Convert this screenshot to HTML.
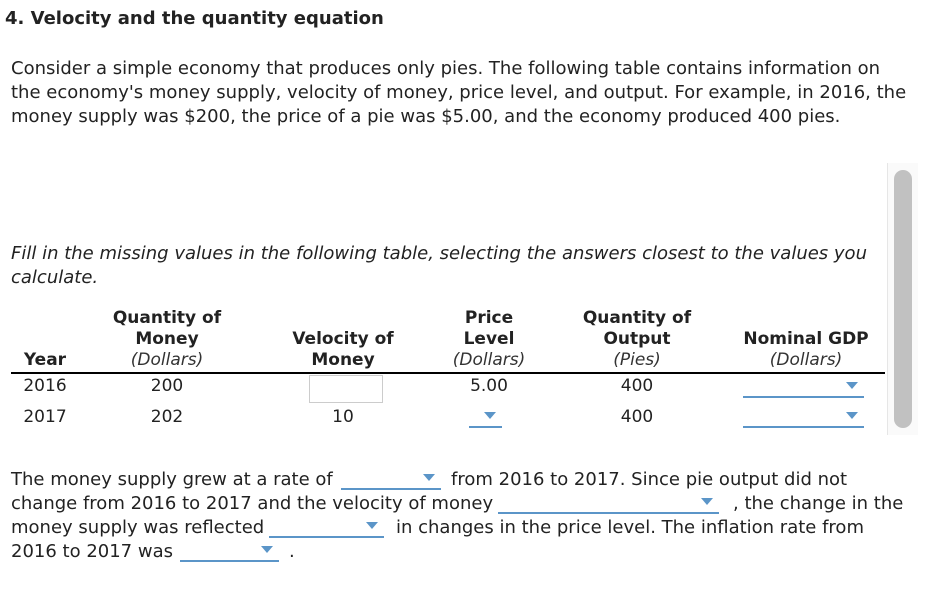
<!DOCTYPE html>
<html><head><meta charset="utf-8">
<style>
body{margin:0;width:952px;height:600px;background:#fff;position:relative;overflow:hidden;font-family:"DejaVu Sans","Liberation Sans",sans-serif;color:#222;}
.t{position:absolute;white-space:nowrap;font-size:18px;line-height:20px;}
.h{position:absolute;white-space:nowrap;font-size:17px;font-weight:bold;line-height:21px;text-align:center;transform:translateX(-50%);}
.h i{font-weight:normal;color:#333}
.c{position:absolute;white-space:nowrap;font-size:17px;line-height:20px;transform:translateX(-50%);}
.dd{position:absolute;border-bottom:2px solid #5b95c8;height:14px}
.dd:after{content:"";position:absolute;right:6px;top:0;border-left:6px solid transparent;border-right:6px solid transparent;border-top:7px solid #5b95c8}
</style></head><body>
<div class="t" style="left:5px;top:9px;font-weight:bold">4. Velocity and the quantity equation</div>
<div>
<div class="t" style="left:11px;top:59px">Consider a simple economy that produces only pies. The following table contains information on</div>
<div class="t" style="left:11px;top:83px">the economy's money supply, velocity of money, price level, and output. For example, in 2016, the</div>
<div class="t" style="left:11px;top:107px">money supply was $200, the price of a pie was $5.00, and the economy produced 400 pies.</div>
</div>
<div style="position:absolute;left:887px;top:163px;width:30px;height:272px;border-left:1px solid #e6e6e6;background:#fafafa"></div>
<div style="position:absolute;left:894px;top:170px;width:18px;height:258px;border-radius:9px;background:#c1c1c1"></div>
<div>
<div class="t" style="left:11px;top:244px;font-style:italic">Fill in the missing values in the following table, selecting the answers closest to the values you</div>
<div class="t" style="left:11px;top:268px;font-style:italic">calculate.</div>
</div>
<div>
<div class="h" style="left:45px;top:350px">Year</div>
<div class="h" style="left:167px;top:308px">Quantity of<br>Money<br><i>(Dollars)</i></div>
<div class="h" style="left:343px;top:329px">Velocity of<br>Money</div>
<div class="h" style="left:489px;top:308px">Price<br>Level<br><i>(Dollars)</i></div>
<div class="h" style="left:637px;top:308px">Quantity of<br>Output<br><i>(Pies)</i></div>
<div class="h" style="left:806px;top:329px">Nominal GDP<br><i>(Dollars)</i></div>
<div style="position:absolute;left:11px;top:372px;width:874px;height:2px;background:#000"></div>
<div class="c" style="left:45px;top:376px">2016</div>
<div class="c" style="left:167px;top:376px">200</div>
<input style="position:absolute;left:309px;top:375px;width:74px;height:28px;border:1px solid #ccc;padding:0;box-sizing:border-box">
<div class="c" style="left:489px;top:376px">5.00</div>
<div class="c" style="left:637px;top:376px">400</div>
<div class="dd" style="left:743px;top:382px;width:121px"></div>
<div class="c" style="left:45px;top:407px">2017</div>
<div class="c" style="left:167px;top:407px">202</div>
<div class="c" style="left:343px;top:407px">10</div>
<div class="dd" style="left:469px;top:412px;width:33px"></div>
<div class="c" style="left:637px;top:407px">400</div>
<div class="dd" style="left:743px;top:412px;width:121px"></div>
</div>
<div>
<div class="t" style="left:11px;top:470px">The money supply grew at a rate of</div>
<div class="dd" style="left:341px;top:474px;width:100px"></div>
<div class="t" style="left:451px;top:470px">from 2016 to 2017. Since pie output did not</div>
<div class="t" style="left:11px;top:494px">change from 2016 to 2017 and the velocity of money</div>
<div class="dd" style="left:498px;top:498px;width:221px"></div>
<div class="t" style="left:733px;top:494px">, the change in the</div>
<div class="t" style="left:11px;top:518px">money supply was reflected</div>
<div class="dd" style="left:269px;top:522px;width:115px"></div>
<div class="t" style="left:396px;top:518px">in changes in the price level. The inflation rate from</div>
<div class="t" style="left:11px;top:542px">2016 to 2017 was</div>
<div class="dd" style="left:180px;top:546px;width:99px"></div>
<div class="t" style="left:289px;top:542px">.</div>
</div>
</body></html>
